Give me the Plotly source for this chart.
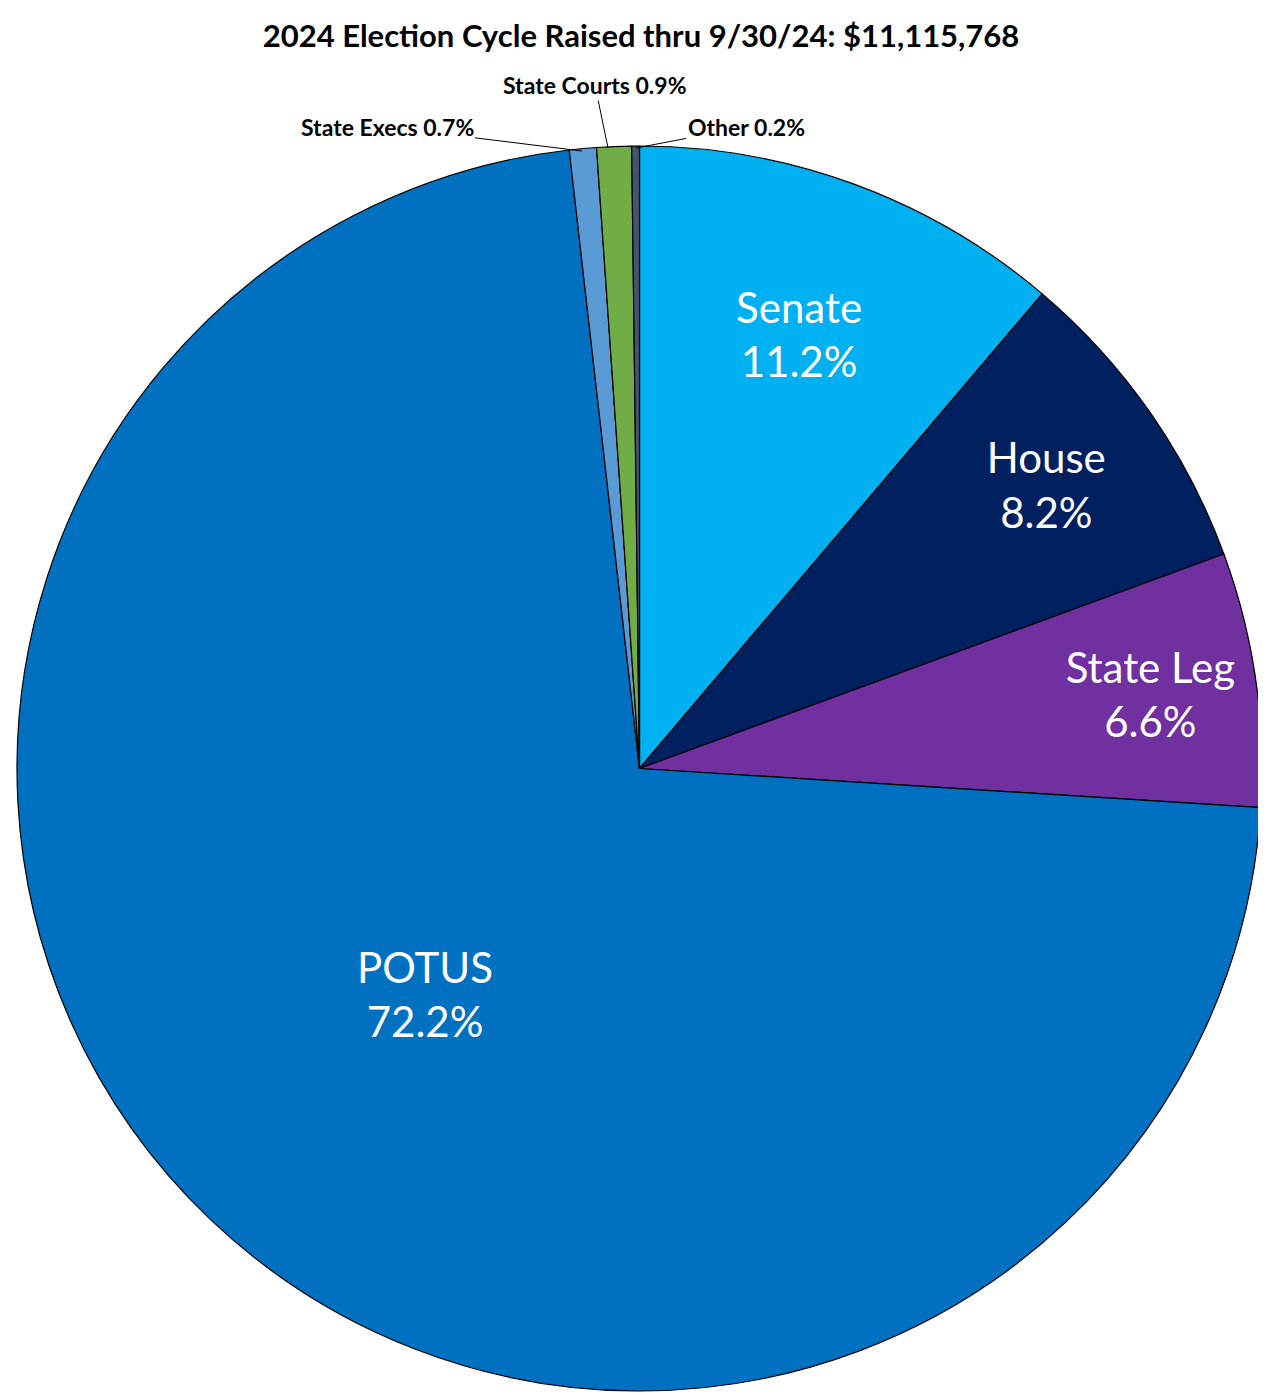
import plotly.graph_objects as go

labels = ["Senate", "House", "State Leg", "POTUS", "State Execs", "State Courts", "Other"]
shares = [11.2, 8.2, 6.6, 72.2, 0.7, 0.9, 0.2]
colors = ["#00B0F0", "#002060", "#7030A0", "#0070C0", "#5B9BD5", "#70AD47", "#44546A"]
inside = ["Senate", "House", "State Leg", "POTUS"]

texts = [f"{l}<br>{s}%" if l in inside else "" for l, s in zip(labels, shares)]

W, H = 1266, 1395

fig = go.Figure(go.Pie(
    labels=labels, values=shares, text=texts, textinfo="text",
    sort=False, direction="clockwise", rotation=0,
    marker=dict(colors=colors, line=dict(color="black", width=1.2)),
    textposition="inside", insidetextorientation="horizontal",
    textfont=dict(family="Lato", size=42, color="white"),
    domain=dict(x=[9 / W, 1254 / W], y=[12 / H, 1 - 138 / H]),
    showlegend=False, hoverinfo="label+percent",
))

# small slices get outside labels with leader lines
callouts = [("State Execs", 574, 143, -195, -24),
            ("State Courts", 600, 140, -13, -63),
            ("Other", 628, 140, 110, -21)]
for name, px_, py_, ax, ay in callouts:
    s = shares[labels.index(name)]
    fig.add_annotation(x=px_ / W, y=1 - py_ / H, xref="paper", yref="paper",
                       text=f"<b>{name} {s}%</b>", showarrow=True, arrowhead=0,
                       arrowwidth=1, arrowcolor="black", ax=ax, ay=ay,
                       font=dict(family="Lato", size=23, color="black"))

fig.update_layout(
    width=W, height=H, margin=dict(l=0, r=0, t=0, b=0),
    paper_bgcolor="white",
    title=dict(text="<b>2024 Election Cycle Raised thru 9/30/24: $11,115,768</b>",
               x=0.5, xanchor="center", y=1 - 28 / H, yanchor="middle",
               font=dict(family="Lato", size=31, color="black")),
)
fig.write_html("out.html")
